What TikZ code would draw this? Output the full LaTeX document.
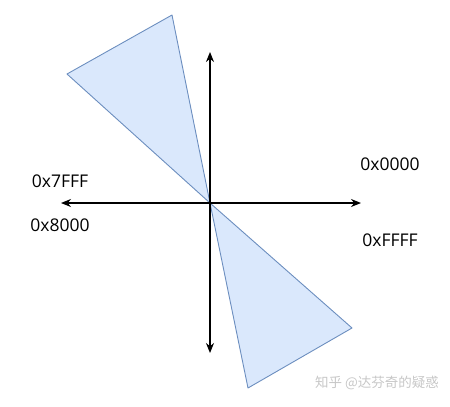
\documentclass[tikz,border=0pt]{standalone}
\usepackage{fontspec}
\setmainfont{Open Sans}
\newfontfamily\cjk{Noto Sans CJK SC}
\usetikzlibrary{arrows.meta}
\definecolor{fillblue}{HTML}{DAE8FC}
\definecolor{edgeblue}{HTML}{6C8EBF}
\tikzset{
  wedge/.style={draw=edgeblue, fill=fillblue, line width=0.9pt, line join=round},
  axis/.style={draw=black, line width=1.2pt, -{Stealth[length=10pt,width=8pt]}},
  lbl/.style={font=\fontsize{17.5}{20}\selectfont, inner sep=0pt},
  wm/.style={font=\cjk\fontsize{13.5}{15}\selectfont, text=black!22, inner sep=0pt}
}
\begin{document}
\begin{tikzpicture}[x=1pt,y=-1pt]
\useasboundingbox (0,0) rectangle (450,407);
\coordinate (o) at (210,203);
\coordinate (a1) at (67,74);
\coordinate (a2) at (172,15);
\coordinate (b1) at (352,328);
\coordinate (b2) at (248,388);
\filldraw[wedge] (o) -- (a1) -- (a2) -- cycle;
\filldraw[wedge] (o) -- (b1) -- (b2) -- cycle;
\coordinate (top) at (210,52);
\coordinate (bot) at (210,353);
\coordinate (left) at (61,203);
\coordinate (right) at (361,203);
\draw[axis] (o) -- (top);
\draw[axis] (o) -- (bot);
\draw[axis] (o) -- (left);
\draw[axis] (o) -- (right);
\node[lbl] (l1) at (60,181) {0x7FFF};
\node[lbl] (l2) at (60,225) {0x8000};
\node[lbl] (l3) at (390,164) {0x0000};
\node[lbl] (l4) at (390,240) {0xFFFF};
\node[wm] (w) at (377,383) {知乎 @达芬奇的疑惑};
\end{tikzpicture}
\end{document}
